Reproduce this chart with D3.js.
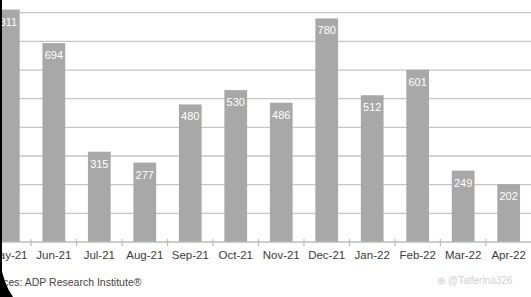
<!DOCTYPE html>
<html>
<head>
<meta charset="utf-8">
<script src="https://cdn.jsdelivr.net/npm/d3@7"></script>
<style>
  body { margin: 0; background: #fff; }
  svg { display: block; }
  text { font-family: Arial, "Liberation Sans", sans-serif; }
</style>
</head>
<body>
<svg width="531" height="297"></svg>
<script>
// monthly values, ADP chart (cropped photo)
var months = ["May-21", "Jun-21", "Jul-21", "Aug-21", "Sep-21", "Oct-21",
              "Nov-21", "Dec-21", "Jan-22", "Feb-22", "Mar-22", "Apr-22"];
var values = [811, 694, 315, 277, 480, 530, 486, 780, 512, 601, 249, 202];
var gridTicks = [100, 200, 300, 400, 500, 600, 700, 800];

var svg = d3.select("svg"),
    W = 531, H = 297;

var x = d3.scaleBand()
    .domain(months)
    .range([-14.4, 531.4])
    .paddingInner(0.5)
    .paddingOuter(0.25);

var y = d3.scaleLinear()
    .domain([0, 800])
    .range([242, 12.7]);

svg.append("rect").attr("width", W).attr("height", H).attr("fill", "#fff");

// gridlines
svg.append("g")
    .selectAll("line")
    .data(gridTicks)
    .enter().append("line")
      .attr("x1", 0).attr("x2", W)
      .attr("y1", function(d){return y(d);})
      .attr("y2", function(d){return y(d);})
      .attr("stroke", "#c6c6c6")
      .attr("stroke-width", 1.3);

// bars
svg.append("g")
    .selectAll("rect")
    .data(months)
    .enter().append("rect")
      .attr("x", function(d){return x(d);})
      .attr("y", function(d, i){return y(values[i]);})
      .attr("width", x.bandwidth())
      .attr("height", function(d, i){return y(0) - y(values[i]);})
      .attr("fill", "#a8a8a8");

// value labels
svg.append("g")
    .selectAll("text")
    .data(months)
    .enter().append("text")
      .attr("x", function(d){return x(d) + x.bandwidth() / 2;})
      .attr("y", function(d, i){return y(values[i]) + 16;})
      .attr("text-anchor", "middle")
      .attr("fill", "#fff")
      .attr("font-size", "11px")
      .text(function(d, i){return values[i];});

// x axis with ticks at band boundaries
var step = x.step();
var axis = svg.append("g");
axis.append("line")
    .attr("x1", 0).attr("x2", W)
    .attr("y1", y(0)).attr("y2", y(0))
    .attr("stroke", "#bdbdbd")
    .attr("stroke-width", 1.3);
axis.selectAll(".tk")
    .data(months)
    .enter().append("line")
      .attr("class", "tk")
      .attr("x1", function(d){return x(d) - step * 0.25;})
      .attr("x2", function(d){return x(d) - step * 0.25;})
      .attr("y1", y(0) - 3).attr("y2", y(0) + 4)
      .attr("stroke", "#bdbdbd")
      .attr("stroke-width", 1.2);
axis.selectAll(".lb")
    .data(months)
    .enter().append("text")
      .attr("class", "lb")
      .attr("x", function(d){return x(d) + x.bandwidth() / 2;})
      .attr("y", 259)
      .attr("text-anchor", "middle")
      .attr("fill", "#3a3a3a")
      .attr("font-size", "11.5px")
      .text(function(d){return d;});

// source line (cut off at left in the photo)
svg.append("text")
    .attr("x", -19).attr("y", 286)
    .attr("fill", "#444")
    .attr("font-size", "10.5px")
    .text("Sources: ADP Research Institute®");

// watermark
svg.append("text")
    .attr("x", 437).attr("y", 284)
    .attr("fill", "#d0d0d0")
    .attr("font-size", "10px")
    .text("⊕ @Taiferina326");

// dark frame edge of the photo
svg.append("rect").attr("x", 0).attr("y", 0).attr("width", 2).attr("height", H).attr("fill", "#000");
svg.append("path")
    .attr("d", "M0,262 Q4,285 13,297 L0,297 Z")
    .attr("fill", "#000");
</script>
</body>
</html>
